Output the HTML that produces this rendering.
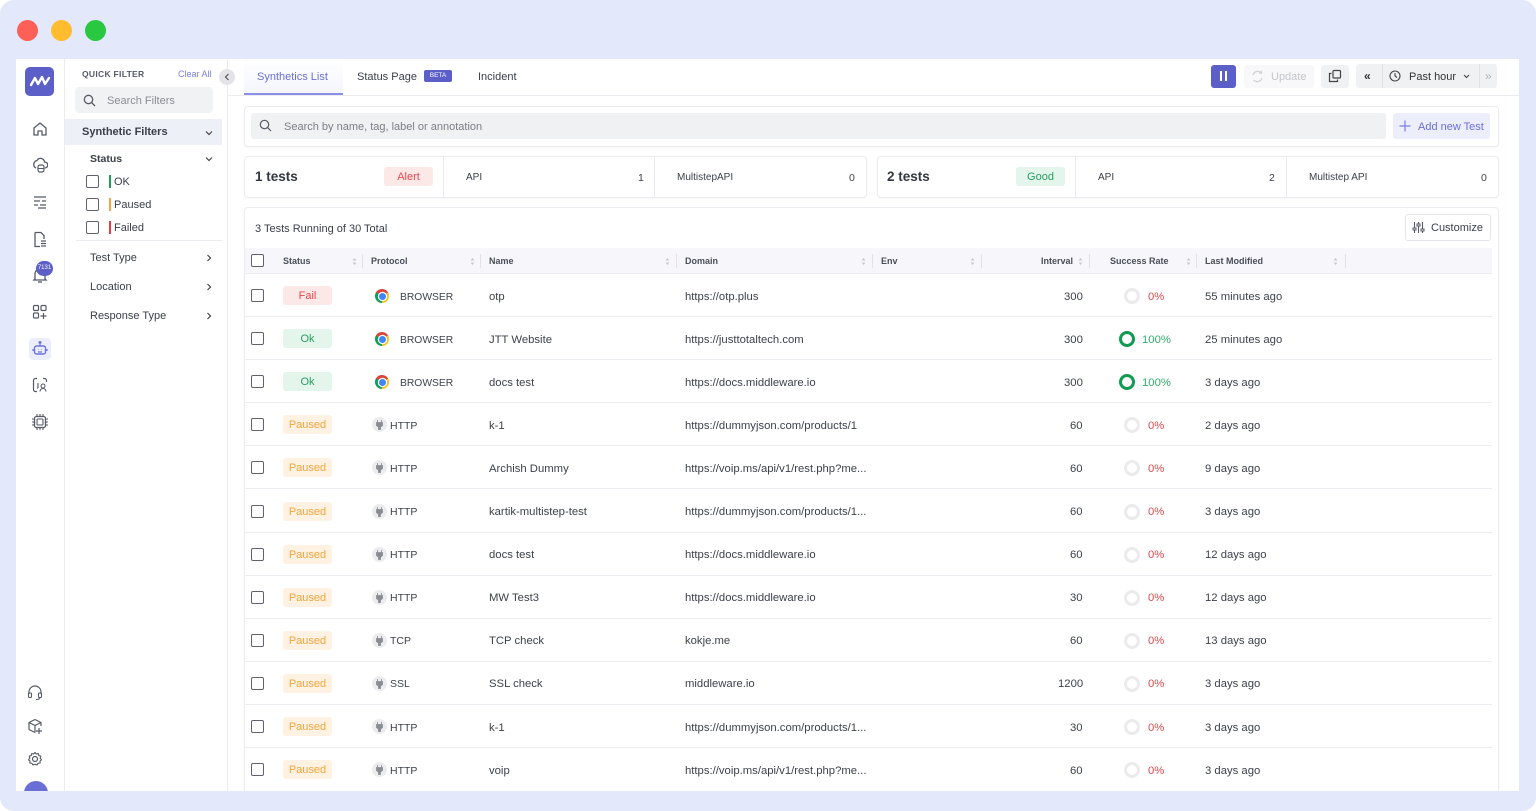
<!DOCTYPE html>
<html><head><meta charset="utf-8">
<style>
*{box-sizing:border-box;margin:0;padding:0}
body{width:1536px;height:811px;background:#fff;position:relative;overflow:hidden;font-family:"Liberation Sans",sans-serif;color:#3b3f4a}
.a{position:absolute}
.frame{left:0;top:0;width:1536px;height:811px;background:#e3e8fb;border-radius:14px}
.dot{width:21px;height:21px;border-radius:50%;top:20px}
.white{left:16px;top:59px;width:1503px;height:732px;background:#fff;overflow:hidden}
.t{position:absolute;white-space:nowrap;margin-top:1px}
.card{position:absolute;background:#fff;border:1px solid #ebebf0;border-radius:4px;box-shadow:0 1px 2px rgba(0,0,0,0.03)}
.cb{position:absolute;width:13px;height:13px;border:1.3px solid #5f6370;border-radius:2px;background:#fff}
.row{position:absolute;left:0;width:1536px;height:43px}
.row .t{line-height:43px;top:0;font-size:11.3px;color:#3d414c;margin-top:1.5px}
.ln{position:absolute;left:245px;width:1247px;height:1px;background:#ededf1;top:42px}
.badge{position:absolute;top:12px;left:283px;width:49px;height:19px;border-radius:3px;text-align:center;line-height:21px;font-size:11px}
.fail{background:#fde8e8;color:#e5484d}
.ok{background:#e4f5ec;color:#2a9d60}
.paused{background:#fff2e2;color:#f5a43a}
.chrome{position:absolute;left:375px;top:15px;width:14px;height:14px;border-radius:50%;background:conic-gradient(from 300deg,#db4437 0deg 120deg,#f4c20d 120deg 240deg,#0f9d58 240deg 360deg)}
.chrome:after{content:"";position:absolute;left:3.5px;top:3.5px;width:7px;height:7px;border-radius:50%;background:#4285f4;box-shadow:0 0 0 1.2px #fff}
.plug{position:absolute;left:372px;top:14px;width:15px;height:15px;border-radius:50%;background:#ececee}
.ring0{position:absolute;left:1124px;top:14px;width:16px;height:16px;border-radius:50%;border:3px solid #ebebed}
.ring1{position:absolute;left:1119px;top:14px;width:16px;height:16px;border-radius:50%;border:3px solid #139a52}
.hd{position:absolute;top:0;line-height:26px;font-size:9px;font-weight:bold;color:#4a4e59;white-space:nowrap}
.sep{position:absolute;top:6px;width:1px;height:14px;background:#e2e2e8}
.sort{position:absolute;top:9px;width:5px;height:9px}
.ic{position:absolute}
</style></head><body>
<div class="a frame"></div>
<div class="a dot" style="left:17px;background:#fe5f57"></div>
<div class="a dot" style="left:51px;background:#febc2e"></div>
<div class="a dot" style="left:85px;background:#28c840"></div>

<div class="a white"></div>

<!-- left icon sidebar -->
<div class="a" style="left:64px;top:59px;width:1px;height:732px;background:#ececf0"></div>
<div class="a" style="left:25px;top:67px;width:29px;height:29px;background:#5b5fc7;border-radius:5px"></div>
<svg class="ic" style="left:29px;top:74px" width="22" height="14" viewBox="0 0 22 14"><path d="M2 11 L6 4 L9 10 L13 3 L16 10 L20 4" fill="none" stroke="#fff" stroke-width="2.4" stroke-linecap="round" stroke-linejoin="round"/></svg>

<svg class="ic" style="left:32px;top:121px" width="16" height="16" viewBox="0 0 16 16"><path d="M2 14 V7 L8 2 L14 7 V14 H10 V10 H6 V14 Z" fill="none" stroke="#555a66" stroke-width="1.3" stroke-linejoin="round"/></svg>
<svg class="ic" style="left:32px;top:157px" width="16" height="16" viewBox="0 0 16 16"><path d="M4 11 A4 4 0 0 1 5 3.5 A4 4 0 0 1 12.5 5 A3 3 0 0 1 13 11" fill="none" stroke="#555a66" stroke-width="1.3"/><rect x="6" y="8" width="6" height="7" rx="2" fill="none" stroke="#555a66" stroke-width="1.2"/><path d="M6 11.5 H12" stroke="#555a66" stroke-width="1"/></svg>
<svg class="ic" style="left:32px;top:195px" width="16" height="14" viewBox="0 0 16 14"><path d="M2 2 H14 M2 6 H8 M10 6 H14 M2 10 H6 M8 10 H14 M6 13 H14" stroke="#555a66" stroke-width="1.2"/></svg>
<svg class="ic" style="left:32px;top:231px" width="16" height="17" viewBox="0 0 16 17"><path d="M3 1.5 H9 L12 4.5 V8 M3 1.5 V15.5 H8" fill="none" stroke="#555a66" stroke-width="1.3"/><path d="M9 10 H14 M9 12.5 H14 M9 15 H14" stroke="#555a66" stroke-width="1.2"/></svg>
<svg class="ic" style="left:32px;top:266px" width="16" height="18" viewBox="0 0 16 18"><path d="M3 13 V8 A5 5 0 0 1 13 8 V13 L14 14 H2 Z" fill="none" stroke="#555a66" stroke-width="1.3"/><path d="M6 16 H10" stroke="#555a66" stroke-width="1.3"/></svg>
<div class="a" style="left:36px;top:261px;width:17px;height:15px;border-radius:8px;background:#5b5fc7;color:#fff;font-size:6px;line-height:15px;text-align:center">7131</div>
<svg class="ic" style="left:32px;top:304px" width="16" height="16" viewBox="0 0 16 16"><rect x="1.5" y="1.5" width="5" height="5" rx="1" fill="none" stroke="#555a66" stroke-width="1.2"/><rect x="9" y="1.5" width="5" height="5" rx="1" fill="none" stroke="#555a66" stroke-width="1.2"/><rect x="1.5" y="9" width="5" height="5" rx="1" fill="none" stroke="#555a66" stroke-width="1.2"/><path d="M11.5 9 V15 M8.5 12 H14.5" stroke="#555a66" stroke-width="1.2"/></svg>
<div class="a" style="left:29px;top:338px;width:22px;height:22px;border-radius:4px;background:#eceefb"></div>
<svg class="ic" style="left:32px;top:340px" width="16" height="17" viewBox="0 0 16 17"><circle cx="8" cy="2.5" r="1.5" fill="#6f73dc"/><path d="M8 4 V6" stroke="#6f73dc" stroke-width="1.2"/><rect x="2.5" y="6" width="11" height="8" rx="2" fill="none" stroke="#6f73dc" stroke-width="1.4"/><path d="M6 9.5 H6.5 M9.5 9.5 H10 M6 12 H10" stroke="#6f73dc" stroke-width="1.3"/><path d="M1 9 V11 M15 9 V11" stroke="#6f73dc" stroke-width="1.3"/></svg>
<svg class="ic" style="left:32px;top:377px" width="16" height="16" viewBox="0 0 16 16"><path d="M5 1.5 H3.5 A2 2 0 0 0 1.5 3.5 V12.5 A2 2 0 0 0 3.5 14.5 H5 M11 1.5 H12.5 A2 2 0 0 1 14.5 3.5 V5" fill="none" stroke="#555a66" stroke-width="1.2"/><circle cx="11" cy="9" r="2" fill="none" stroke="#555a66" stroke-width="1.1"/><path d="M8 14.5 A3 3 0 0 1 14 14.5" fill="none" stroke="#555a66" stroke-width="1.1"/><path d="M6 6 V11 M6 11 L5 11" stroke="#555a66" stroke-width="1.1"/></svg>
<svg class="ic" style="left:31px;top:413px" width="18" height="18" viewBox="0 0 18 18"><rect x="3.5" y="3.5" width="11" height="11" rx="2" fill="none" stroke="#555a66" stroke-width="1.3"/><rect x="6" y="6" width="6" height="6" rx="1" fill="none" stroke="#555a66" stroke-width="1.1"/><path d="M6 1 V3 M9 1 V3 M12 1 V3 M6 15 V17 M9 15 V17 M12 15 V17 M1 6 H3 M1 9 H3 M1 12 H3 M15 6 H17 M15 9 H17 M15 12 H17" stroke="#555a66" stroke-width="1.1"/></svg>

<svg class="ic" style="left:27px;top:684px" width="16" height="17" viewBox="0 0 16 17"><path d="M2 10 V8 A6 6 0 0 1 14 8 V10" fill="none" stroke="#555a66" stroke-width="1.2"/><rect x="1.5" y="9" width="3" height="4.5" rx="1" fill="none" stroke="#555a66" stroke-width="1.1"/><rect x="11.5" y="9" width="3" height="4.5" rx="1" fill="none" stroke="#555a66" stroke-width="1.1"/><path d="M13 13.5 Q13 15.5 9 15.5" fill="none" stroke="#555a66" stroke-width="1.1"/></svg>
<svg class="ic" style="left:27px;top:718px" width="16" height="17" viewBox="0 0 16 17"><path d="M8 1.5 L14 4.5 V8 M8 1.5 L2 4.5 V11.5 L8 14.5 M2 4.5 L8 7.5 L14 4.5 M8 7.5 V14.5" fill="none" stroke="#555a66" stroke-width="1.2" stroke-linejoin="round"/><path d="M12 10 V16 M9 13 H15" stroke="#555a66" stroke-width="1.2"/></svg>
<svg class="ic" style="left:27px;top:751px" width="16" height="16" viewBox="0 0 16 16"><circle cx="8" cy="8" r="2.5" fill="none" stroke="#555a66" stroke-width="1.2"/><path d="M8 1.5 L9.3 3 L11.3 2.6 L11.8 4.5 L13.7 5.2 L13.2 7.2 L14.5 8.8 L13 10 L13.2 12 L11.2 12.2 L10 14 L8 13.2 L6 14 L4.8 12.2 L2.8 12 L3 10 L1.5 8.8 L2.8 7.2 L2.3 5.2 L4.2 4.5 L4.7 2.6 L6.7 3 Z" fill="none" stroke="#555a66" stroke-width="1.1" stroke-linejoin="round"/></svg>
<div class="a" style="left:24px;top:781px;width:24px;height:24px;border-radius:50%;background:#6a6fd6"></div>

<!-- filter panel -->
<div class="a" style="left:227px;top:59px;width:1px;height:732px;background:#ececf0"></div>
<div class="t" style="left:82px;top:68px;font-size:8.5px;font-weight:bold;color:#555a66;letter-spacing:0.3px">QUICK FILTER</div>
<div class="t" style="left:178px;top:68px;font-size:9px;color:#7b7fe0">Clear All</div>
<div class="a" style="left:219px;top:69px;width:16px;height:16px;border-radius:50%;background:#e4e4e8"></div>
<svg class="ic" style="left:224px;top:73px" width="6" height="8" viewBox="0 0 6 8"><path d="M4.5 1 L1.5 4 L4.5 7" fill="none" stroke="#555" stroke-width="1.2"/></svg>
<div class="a" style="left:75px;top:87px;width:138px;height:26px;background:#f1f2f4;border-radius:4px"></div>
<svg class="ic" style="left:83px;top:94px" width="13" height="13" viewBox="0 0 13 13"><circle cx="5.5" cy="5.5" r="4.2" fill="none" stroke="#555a66" stroke-width="1.3"/><path d="M8.6 8.6 L12 12" stroke="#555a66" stroke-width="1.3"/></svg>
<div class="t" style="left:107px;top:94px;font-size:11px;color:#8a8d96">Search Filters</div>
<div class="a" style="left:65px;top:119px;width:157px;height:26px;background:#eef0f7"></div>
<div class="t" style="left:82px;top:125px;font-size:11px;font-weight:bold;color:#3a3e4a">Synthetic Filters</div>
<svg class="ic" style="left:205px;top:130px" width="8" height="6" viewBox="0 0 8 6"><path d="M1 1.5 L4 4.5 L7 1.5" fill="none" stroke="#444" stroke-width="1.2"/></svg>
<div class="t" style="left:90px;top:152px;font-size:10.5px;font-weight:bold;color:#3a3e4a">Status</div>
<svg class="ic" style="left:205px;top:156px" width="8" height="6" viewBox="0 0 8 6"><path d="M1 1.5 L4 4.5 L7 1.5" fill="none" stroke="#444" stroke-width="1.2"/></svg>
<div class="cb" style="left:86px;top:175px"></div>
<div class="a" style="left:109px;top:175px;width:2px;height:13px;background:#1f9d55"></div>
<div class="t" style="left:114px;top:175px;font-size:11px;color:#3a3e4a">OK</div>
<div class="cb" style="left:86px;top:198px"></div>
<div class="a" style="left:109px;top:198px;width:2px;height:13px;background:#f5a43a"></div>
<div class="t" style="left:114px;top:198px;font-size:11px;color:#3a3e4a">Paused</div>
<div class="cb" style="left:86px;top:221px"></div>
<div class="a" style="left:109px;top:221px;width:2px;height:13px;background:#e53e3e"></div>
<div class="t" style="left:114px;top:221px;font-size:11px;color:#3a3e4a">Failed</div>
<div class="a" style="left:76px;top:240px;width:146px;height:1px;background:#ececf0"></div>
<div class="t" style="left:90px;top:251px;font-size:11px;color:#3a3e4a">Test Type</div>
<div class="t" style="left:90px;top:280px;font-size:11px;color:#3a3e4a">Location</div>
<div class="t" style="left:90px;top:309px;font-size:11px;color:#3a3e4a">Response Type</div>
<svg class="ic" style="left:206px;top:254px" width="6" height="8" viewBox="0 0 6 8"><path d="M1.5 1 L4.5 4 L1.5 7" fill="none" stroke="#444" stroke-width="1.2"/></svg>
<svg class="ic" style="left:206px;top:283px" width="6" height="8" viewBox="0 0 6 8"><path d="M1.5 1 L4.5 4 L1.5 7" fill="none" stroke="#444" stroke-width="1.2"/></svg>
<svg class="ic" style="left:206px;top:312px" width="6" height="8" viewBox="0 0 6 8"><path d="M1.5 1 L4.5 4 L1.5 7" fill="none" stroke="#444" stroke-width="1.2"/></svg>

<!-- tabs -->
<div class="a" style="left:228px;top:95px;width:1291px;height:1px;background:#ececf0"></div>
<div class="a" style="left:244px;top:59px;width:99px;height:36px;background:linear-gradient(#fff,#f4f5fd)"></div>
<div class="a" style="left:244px;top:93px;width:99px;height:2px;background:#8a8fe8"></div>
<div class="t" style="left:257px;top:70px;font-size:11px;color:#6a6fd6">Synthetics List</div>
<div class="t" style="left:357px;top:70px;font-size:11px;color:#3a3e4a">Status Page</div>
<div class="a" style="left:424px;top:70px;width:28px;height:12px;background:#5b5fc7;border-radius:2px;color:#fff;font-size:6.5px;line-height:12px;text-align:center">BETA</div>
<div class="t" style="left:478px;top:70px;font-size:11px;color:#3a3e4a">Incident</div>

<!-- top right controls -->
<div class="a" style="left:1211px;top:65px;width:25px;height:23px;background:#5b5fc7;border-radius:3px"></div>
<div class="a" style="left:1220px;top:71px;width:2px;height:10px;background:#fff"></div>
<div class="a" style="left:1225px;top:71px;width:2px;height:10px;background:#fff"></div>
<div class="a" style="left:1244px;top:65px;width:70px;height:23px;background:#f8f8fa;border-radius:3px"></div>
<svg class="ic" style="left:1251px;top:70px" width="13" height="13" viewBox="0 0 13 13"><path d="M10.5 3 A5 5 0 0 0 2 5 M2.5 10 A5 5 0 0 0 11 8" fill="none" stroke="#cfd0d6" stroke-width="1.2"/><path d="M10.5 0.8 V3.2 H8" fill="none" stroke="#cfd0d6" stroke-width="1.2"/></svg>
<div class="t" style="left:1271px;top:70px;font-size:11px;color:#c5c6cd">Update</div>
<div class="a" style="left:1321px;top:65px;width:28px;height:23px;background:#f0f1f3;border-radius:3px"></div>
<svg class="ic" style="left:1328px;top:69px" width="14" height="14" viewBox="0 0 14 14"><rect x="5" y="1.5" width="7.5" height="7.5" rx="1" fill="none" stroke="#444" stroke-width="1.2"/><path d="M3.5 4.5 H1.5 V12.5 H9.5 V10.5" fill="none" stroke="#444" stroke-width="1.2"/></svg>
<div class="a" style="left:1356px;top:64px;width:141px;height:24px;background:#f0f1f3;border-radius:3px"></div>
<div class="a" style="left:1382px;top:64px;width:1px;height:24px;background:#e0e1e5"></div>
<div class="a" style="left:1479px;top:64px;width:1px;height:24px;background:#e0e1e5"></div>
<div class="t" style="left:1364px;top:68px;font-size:12px;color:#333;font-weight:bold">«</div>
<svg class="ic" style="left:1389px;top:70px" width="12" height="12" viewBox="0 0 12 12"><circle cx="6" cy="6" r="5" fill="none" stroke="#444" stroke-width="1.1"/><path d="M6 3 V6 L8 7.5" fill="none" stroke="#444" stroke-width="1.1"/></svg>
<div class="t" style="left:1409px;top:70px;font-size:11px;color:#333">Past hour</div>
<svg class="ic" style="left:1463px;top:74px" width="7" height="5" viewBox="0 0 7 5"><path d="M1 1 L3.5 3.5 L6 1" fill="none" stroke="#444" stroke-width="1.1"/></svg>
<div class="t" style="left:1485px;top:68px;font-size:12px;color:#b5b6bd">»</div>

<!-- search card -->
<div class="card" style="left:244px;top:106px;width:1255px;height:41px"></div>
<div class="a" style="left:251px;top:113px;width:1135px;height:26px;background:#f0f1f3;border-radius:3px"></div>
<svg class="ic" style="left:259px;top:119px" width="13" height="13" viewBox="0 0 13 13"><circle cx="5.5" cy="5.5" r="4.2" fill="none" stroke="#555a66" stroke-width="1.2"/><path d="M8.6 8.6 L12 12" stroke="#555a66" stroke-width="1.2"/></svg>
<div class="t" style="left:284px;top:120px;font-size:11px;color:#7b7e88">Search by name, tag, label or annotation</div>
<div class="a" style="left:1393px;top:113px;width:97px;height:26px;background:#eceefc;border-radius:3px"></div>
<svg class="ic" style="left:1399px;top:120px" width="12" height="12" viewBox="0 0 12 12"><path d="M6 0.5 V11.5 M0.5 6 H11.5" stroke="#7b7fe0" stroke-width="1.2"/></svg>
<div class="t" style="left:1418px;top:120px;font-size:11px;color:#6b70d8">Add new Test</div>

<!-- stat cards -->
<div class="card" style="left:244px;top:156px;width:623px;height:42px"></div>
<div class="t" style="left:255px;top:168px;font-size:13.5px;font-weight:bold;color:#333741">1 tests</div>
<div class="a fail" style="left:384px;top:167px;width:49px;height:19px;border-radius:3px;font-size:11px;line-height:21px;text-align:center">Alert</div>
<div class="a" style="left:443px;top:157px;width:1px;height:40px;background:#ececf0"></div>
<div class="t" style="left:466px;top:171px;font-size:10px;color:#3a3e4a">API</div>
<div class="t" style="left:638px;top:171px;font-size:10.5px;color:#3a3e4a">1</div>
<div class="a" style="left:654px;top:157px;width:1px;height:40px;background:#ececf0"></div>
<div class="t" style="left:677px;top:171px;font-size:10px;color:#3a3e4a">MultistepAPI</div>
<div class="t" style="left:849px;top:171px;font-size:10.5px;color:#3a3e4a">0</div>

<div class="card" style="left:877px;top:156px;width:622px;height:42px"></div>
<div class="t" style="left:887px;top:168px;font-size:13.5px;font-weight:bold;color:#333741">2 tests</div>
<div class="a ok" style="left:1016px;top:167px;width:49px;height:19px;border-radius:3px;font-size:11px;line-height:21px;text-align:center">Good</div>
<div class="a" style="left:1075px;top:157px;width:1px;height:40px;background:#ececf0"></div>
<div class="t" style="left:1098px;top:171px;font-size:10px;color:#3a3e4a">API</div>
<div class="t" style="left:1269px;top:171px;font-size:10.5px;color:#3a3e4a">2</div>
<div class="a" style="left:1286px;top:157px;width:1px;height:40px;background:#ececf0"></div>
<div class="t" style="left:1309px;top:171px;font-size:10px;color:#3a3e4a">Multistep API</div>
<div class="t" style="left:1481px;top:171px;font-size:10.5px;color:#3a3e4a">0</div>

<!-- table card -->
<div class="card" style="left:244px;top:207px;width:1255px;height:600px"></div>
<div class="t" style="left:255px;top:222px;font-size:11px;color:#3a3e4a">3 Tests Running of 30 Total</div>
<div class="a" style="left:1405px;top:214px;width:86px;height:27px;border:1px solid #e4e5ea;border-radius:3px;background:#fff"></div>
<svg class="ic" style="left:1412px;top:221px" width="13" height="13" viewBox="0 0 13 13"><path d="M2.5 1 V12 M6.5 1 V12 M10.5 1 V12" stroke="#555a66" stroke-width="1.1"/><rect x="1" y="7" width="3" height="2" fill="#fff" stroke="#555a66" stroke-width="1"/><rect x="5" y="3" width="3" height="2" fill="#fff" stroke="#555a66" stroke-width="1"/><rect x="9" y="8" width="3" height="2" fill="#fff" stroke="#555a66" stroke-width="1"/></svg>
<div class="t" style="left:1431px;top:221px;font-size:11px;color:#3a3e4a">Customize</div>

<!-- header row -->
<div class="a" style="left:245px;top:248px;width:1247px;height:26px;background:#f7f7fb;border-bottom:1px solid #ededf1">
</div>
<div class="a" style="left:0;top:248px;width:1536px;height:26px">
  <div class="cb" style="left:251px;top:6px"></div>
  <div class="hd" style="left:283px">Status</div>
  <div class="hd" style="left:371px">Protocol</div>
  <div class="hd" style="left:489px">Name</div>
  <div class="hd" style="left:685px">Domain</div>
  <div class="hd" style="left:881px">Env</div>
  <div class="hd" style="left:1041px">Interval</div>
  <div class="hd" style="left:1110px">Success Rate</div>
  <div class="hd" style="left:1205px">Last Modified</div>
  <svg class="sort" style="left:352px" viewBox="0 0 5 9"><path d="M0.5 3.5 L2.5 1 L4.5 3.5 Z M0.5 5.5 L2.5 8 L4.5 5.5 Z" fill="#c8c9cf"/></svg>
  <svg class="sort" style="left:470px" viewBox="0 0 5 9"><path d="M0.5 3.5 L2.5 1 L4.5 3.5 Z M0.5 5.5 L2.5 8 L4.5 5.5 Z" fill="#c8c9cf"/></svg>
  <svg class="sort" style="left:665px" viewBox="0 0 5 9"><path d="M0.5 3.5 L2.5 1 L4.5 3.5 Z M0.5 5.5 L2.5 8 L4.5 5.5 Z" fill="#c8c9cf"/></svg>
  <svg class="sort" style="left:861px" viewBox="0 0 5 9"><path d="M0.5 3.5 L2.5 1 L4.5 3.5 Z M0.5 5.5 L2.5 8 L4.5 5.5 Z" fill="#c8c9cf"/></svg>
  <svg class="sort" style="left:970px" viewBox="0 0 5 9"><path d="M0.5 3.5 L2.5 1 L4.5 3.5 Z M0.5 5.5 L2.5 8 L4.5 5.5 Z" fill="#c8c9cf"/></svg>
  <svg class="sort" style="left:1078px" viewBox="0 0 5 9"><path d="M0.5 3.5 L2.5 1 L4.5 3.5 Z M0.5 5.5 L2.5 8 L4.5 5.5 Z" fill="#c8c9cf"/></svg>
  <svg class="sort" style="left:1186px" viewBox="0 0 5 9"><path d="M0.5 3.5 L2.5 1 L4.5 3.5 Z M0.5 5.5 L2.5 8 L4.5 5.5 Z" fill="#c8c9cf"/></svg>
  <svg class="sort" style="left:1333px" viewBox="0 0 5 9"><path d="M0.5 3.5 L2.5 1 L4.5 3.5 Z M0.5 5.5 L2.5 8 L4.5 5.5 Z" fill="#c8c9cf"/></svg>
  <div class="sep" style="left:362px"></div>
  <div class="sep" style="left:480px"></div>
  <div class="sep" style="left:676px"></div>
  <div class="sep" style="left:872px"></div>
  <div class="sep" style="left:981px"></div>
  <div class="sep" style="left:1089px"></div>
  <div class="sep" style="left:1196px"></div>
  <div class="sep" style="left:1345px"></div>
</div>

<!-- rows -->
<div class="row" style="top:274px"><div class="cb" style="left:251px;top:15px"></div><div class="badge fail">Fail</div><div class="chrome"></div><div class="t" style="left:400px;font-size:10.3px">BROWSER</div><div class="t" style="left:489px">otp</div><div class="t" style="left:685px">https://otp.plus</div><div class="t" style="left:1064px">300</div><div class="ring0"></div><div class="t" style="left:1148px;color:#e5484d">0%</div><div class="t" style="left:1205px">55 minutes ago</div><div class="ln"></div></div>

<div class="row" style="top:317.1px"><div class="cb" style="left:251px;top:15px"></div><div class="badge ok">Ok</div><div class="chrome"></div><div class="t" style="left:400px;font-size:10.3px">BROWSER</div><div class="t" style="left:489px">JTT Website</div><div class="t" style="left:685px">https://justtotaltech.com</div><div class="t" style="left:1064px">300</div><div class="ring1"></div><div class="t" style="left:1142px;color:#2fae6a">100%</div><div class="t" style="left:1205px">25 minutes ago</div><div class="ln"></div></div>

<div class="row" style="top:360.2px"><div class="cb" style="left:251px;top:15px"></div><div class="badge ok">Ok</div><div class="chrome"></div><div class="t" style="left:400px;font-size:10.3px">BROWSER</div><div class="t" style="left:489px">docs test</div><div class="t" style="left:685px">https://docs.middleware.io</div><div class="t" style="left:1064px">300</div><div class="ring1"></div><div class="t" style="left:1142px;color:#2fae6a">100%</div><div class="t" style="left:1205px">3 days ago</div><div class="ln"></div></div>

<div class="row" style="top:403.3px"><div class="cb" style="left:251px;top:15px"></div><div class="badge paused">Paused</div><div class="plug"><svg width="15" height="15" viewBox="0 0 15 15"><path d="M5.5 3 V5.5 M9.5 3 V5.5 M4.5 5.5 H10.5 V8.5 L8.5 10 V12.5 H6.5 V10 L4.5 8.5 Z" fill="#8a8c94" stroke="#8a8c94" stroke-width="0.8"/></svg></div><div class="t" style="left:390px;font-size:10.5px">HTTP</div><div class="t" style="left:489px">k-1</div><div class="t" style="left:685px">https://dummyjson.com/products/1</div><div class="t" style="left:1070px">60</div><div class="ring0"></div><div class="t" style="left:1148px;color:#e5484d">0%</div><div class="t" style="left:1205px">2 days ago</div><div class="ln"></div></div>

<div class="row" style="top:446.4px"><div class="cb" style="left:251px;top:15px"></div><div class="badge paused">Paused</div><div class="plug"><svg width="15" height="15" viewBox="0 0 15 15"><path d="M5.5 3 V5.5 M9.5 3 V5.5 M4.5 5.5 H10.5 V8.5 L8.5 10 V12.5 H6.5 V10 L4.5 8.5 Z" fill="#8a8c94" stroke="#8a8c94" stroke-width="0.8"/></svg></div><div class="t" style="left:390px;font-size:10.5px">HTTP</div><div class="t" style="left:489px">Archish Dummy</div><div class="t" style="left:685px">https://voip.ms/api/v1/rest.php?me...</div><div class="t" style="left:1070px">60</div><div class="ring0"></div><div class="t" style="left:1148px;color:#e5484d">0%</div><div class="t" style="left:1205px">9 days ago</div><div class="ln"></div></div>

<div class="row" style="top:489.5px"><div class="cb" style="left:251px;top:15px"></div><div class="badge paused">Paused</div><div class="plug"><svg width="15" height="15" viewBox="0 0 15 15"><path d="M5.5 3 V5.5 M9.5 3 V5.5 M4.5 5.5 H10.5 V8.5 L8.5 10 V12.5 H6.5 V10 L4.5 8.5 Z" fill="#8a8c94" stroke="#8a8c94" stroke-width="0.8"/></svg></div><div class="t" style="left:390px;font-size:10.5px">HTTP</div><div class="t" style="left:489px">kartik-multistep-test</div><div class="t" style="left:685px">https://dummyjson.com/products/1...</div><div class="t" style="left:1070px">60</div><div class="ring0"></div><div class="t" style="left:1148px;color:#e5484d">0%</div><div class="t" style="left:1205px">3 days ago</div><div class="ln"></div></div>

<div class="row" style="top:532.6px"><div class="cb" style="left:251px;top:15px"></div><div class="badge paused">Paused</div><div class="plug"><svg width="15" height="15" viewBox="0 0 15 15"><path d="M5.5 3 V5.5 M9.5 3 V5.5 M4.5 5.5 H10.5 V8.5 L8.5 10 V12.5 H6.5 V10 L4.5 8.5 Z" fill="#8a8c94" stroke="#8a8c94" stroke-width="0.8"/></svg></div><div class="t" style="left:390px;font-size:10.5px">HTTP</div><div class="t" style="left:489px">docs test</div><div class="t" style="left:685px">https://docs.middleware.io</div><div class="t" style="left:1070px">60</div><div class="ring0"></div><div class="t" style="left:1148px;color:#e5484d">0%</div><div class="t" style="left:1205px">12 days ago</div><div class="ln"></div></div>

<div class="row" style="top:575.7px"><div class="cb" style="left:251px;top:15px"></div><div class="badge paused">Paused</div><div class="plug"><svg width="15" height="15" viewBox="0 0 15 15"><path d="M5.5 3 V5.5 M9.5 3 V5.5 M4.5 5.5 H10.5 V8.5 L8.5 10 V12.5 H6.5 V10 L4.5 8.5 Z" fill="#8a8c94" stroke="#8a8c94" stroke-width="0.8"/></svg></div><div class="t" style="left:390px;font-size:10.5px">HTTP</div><div class="t" style="left:489px">MW Test3</div><div class="t" style="left:685px">https://docs.middleware.io</div><div class="t" style="left:1070px">30</div><div class="ring0"></div><div class="t" style="left:1148px;color:#e5484d">0%</div><div class="t" style="left:1205px">12 days ago</div><div class="ln"></div></div>

<div class="row" style="top:618.8px"><div class="cb" style="left:251px;top:15px"></div><div class="badge paused">Paused</div><div class="plug"><svg width="15" height="15" viewBox="0 0 15 15"><path d="M5.5 3 V5.5 M9.5 3 V5.5 M4.5 5.5 H10.5 V8.5 L8.5 10 V12.5 H6.5 V10 L4.5 8.5 Z" fill="#8a8c94" stroke="#8a8c94" stroke-width="0.8"/></svg></div><div class="t" style="left:390px;font-size:10.5px">TCP</div><div class="t" style="left:489px">TCP check</div><div class="t" style="left:685px">kokje.me</div><div class="t" style="left:1070px">60</div><div class="ring0"></div><div class="t" style="left:1148px;color:#e5484d">0%</div><div class="t" style="left:1205px">13 days ago</div><div class="ln"></div></div>

<div class="row" style="top:661.9px"><div class="cb" style="left:251px;top:15px"></div><div class="badge paused">Paused</div><div class="plug"><svg width="15" height="15" viewBox="0 0 15 15"><path d="M5.5 3 V5.5 M9.5 3 V5.5 M4.5 5.5 H10.5 V8.5 L8.5 10 V12.5 H6.5 V10 L4.5 8.5 Z" fill="#8a8c94" stroke="#8a8c94" stroke-width="0.8"/></svg></div><div class="t" style="left:390px;font-size:10.5px">SSL</div><div class="t" style="left:489px">SSL check</div><div class="t" style="left:685px">middleware.io</div><div class="t" style="left:1058px">1200</div><div class="ring0"></div><div class="t" style="left:1148px;color:#e5484d">0%</div><div class="t" style="left:1205px">3 days ago</div><div class="ln"></div></div>

<div class="row" style="top:705px"><div class="cb" style="left:251px;top:15px"></div><div class="badge paused">Paused</div><div class="plug"><svg width="15" height="15" viewBox="0 0 15 15"><path d="M5.5 3 V5.5 M9.5 3 V5.5 M4.5 5.5 H10.5 V8.5 L8.5 10 V12.5 H6.5 V10 L4.5 8.5 Z" fill="#8a8c94" stroke="#8a8c94" stroke-width="0.8"/></svg></div><div class="t" style="left:390px;font-size:10.5px">HTTP</div><div class="t" style="left:489px">k-1</div><div class="t" style="left:685px">https://dummyjson.com/products/1...</div><div class="t" style="left:1070px">30</div><div class="ring0"></div><div class="t" style="left:1148px;color:#e5484d">0%</div><div class="t" style="left:1205px">3 days ago</div><div class="ln"></div></div>

<div class="row" style="top:748.1px"><div class="cb" style="left:251px;top:15px"></div><div class="badge paused">Paused</div><div class="plug"><svg width="15" height="15" viewBox="0 0 15 15"><path d="M5.5 3 V5.5 M9.5 3 V5.5 M4.5 5.5 H10.5 V8.5 L8.5 10 V12.5 H6.5 V10 L4.5 8.5 Z" fill="#8a8c94" stroke="#8a8c94" stroke-width="0.8"/></svg></div><div class="t" style="left:390px;font-size:10.5px">HTTP</div><div class="t" style="left:489px">voip</div><div class="t" style="left:685px">https://voip.ms/api/v1/rest.php?me...</div><div class="t" style="left:1070px">60</div><div class="ring0"></div><div class="t" style="left:1148px;color:#e5484d">0%</div><div class="t" style="left:1205px">3 days ago</div></div>

<!-- bottom frame mask -->
<div class="a" style="left:0;top:791px;width:1536px;height:20px;background:#e3e8fb;border-radius:0 0 14px 14px"></div>
<div class="a" style="left:1519px;top:59px;width:17px;height:740px;background:#e3e8fb"></div>
</body></html>
